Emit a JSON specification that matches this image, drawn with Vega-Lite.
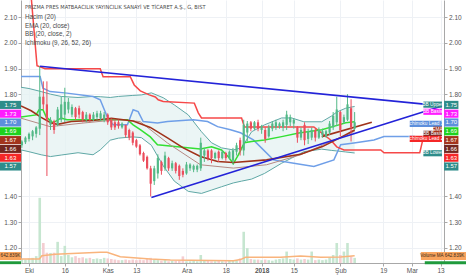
{
"$schema": "https://vega.github.io/schema/vega-lite/v6.json",
"width": 423, "height": 263, "autosize": "none",
"padding": {"left": 21, "right": 22, "top": 0, "bottom": 12},
"background": "white",
"config": {"view": {"stroke": null}, "font": "Liberation Sans", "axis": {"labelOverlap": false, "labelBound": false, "labelFlush": false}},
"datasets": {
"candles": [
{"t":-2,"o":1.600,"h":1.620,"l":1.590,"c":1.615,"v":350},
{"t":-1,"o":1.612,"h":1.635,"l":1.605,"c":1.630,"v":300},
{"t":0,"o":1.625,"h":1.650,"l":1.615,"c":1.645,"v":400},
{"t":1,"o":1.635,"h":1.660,"l":1.620,"c":1.655,"v":450},
{"t":2,"o":1.645,"h":1.675,"l":1.630,"c":1.670,"v":600},
{"t":3,"o":1.665,"h":1.910,"l":1.640,"c":1.790,"v":5700},
{"t":4,"o":1.790,"h":1.850,"l":1.740,"c":1.760,"v":1750},
{"t":5,"o":1.760,"h":1.850,"l":1.480,"c":1.700,"v":900},
{"t":6,"o":1.680,"h":1.710,"l":1.660,"c":1.700,"v":880},
{"t":7,"o":1.695,"h":1.700,"l":1.645,"c":1.660,"v":900},
{"t":8,"o":1.680,"h":1.750,"l":1.675,"c":1.740,"v":1850},
{"t":9,"o":1.700,"h":1.790,"l":1.690,"c":1.760,"v":600},
{"t":10,"o":1.720,"h":1.825,"l":1.690,"c":1.770,"v":1500},
{"t":11,"o":1.740,"h":1.785,"l":1.725,"c":1.770,"v":700},
{"t":12,"o":1.720,"h":1.760,"l":1.710,"c":1.750,"v":500},
{"t":13,"o":1.745,"h":1.750,"l":1.700,"c":1.710,"v":600},
{"t":14,"o":1.745,"h":1.755,"l":1.705,"c":1.720,"v":450},
{"t":15,"o":1.730,"h":1.735,"l":1.690,"c":1.700,"v":500},
{"t":16,"o":1.700,"h":1.730,"l":1.690,"c":1.720,"v":400},
{"t":17,"o":1.720,"h":1.725,"l":1.690,"c":1.700,"v":450},
{"t":18,"o":1.700,"h":1.730,"l":1.695,"c":1.720,"v":350},
{"t":19,"o":1.710,"h":1.735,"l":1.700,"c":1.725,"v":400},
{"t":20,"o":1.705,"h":1.735,"l":1.695,"c":1.725,"v":350},
{"t":21,"o":1.700,"h":1.730,"l":1.690,"c":1.720,"v":450},
{"t":22,"o":1.720,"h":1.725,"l":1.680,"c":1.690,"v":400},
{"t":23,"o":1.700,"h":1.705,"l":1.660,"c":1.670,"v":350},
{"t":24,"o":1.690,"h":1.700,"l":1.660,"c":1.670,"v":300},
{"t":25,"o":1.690,"h":1.700,"l":1.665,"c":1.675,"v":250},
{"t":26,"o":1.670,"h":1.690,"l":1.665,"c":1.685,"v":250},
{"t":27,"o":1.680,"h":1.680,"l":1.630,"c":1.640,"v":300},
{"t":28,"o":1.660,"h":1.665,"l":1.620,"c":1.630,"v":250},
{"t":29,"o":1.650,"h":1.655,"l":1.600,"c":1.610,"v":300},
{"t":30,"o":1.620,"h":1.625,"l":1.590,"c":1.595,"v":250},
{"t":31,"o":1.600,"h":1.605,"l":1.560,"c":1.565,"v":300},
{"t":32,"o":1.570,"h":1.575,"l":1.535,"c":1.540,"v":250},
{"t":33,"o":1.555,"h":1.560,"l":1.505,"c":1.510,"v":350},
{"t":34,"o":1.510,"h":1.520,"l":1.400,"c":1.450,"v":450},
{"t":35,"o":1.460,"h":1.520,"l":1.445,"c":1.510,"v":300},
{"t":36,"o":1.490,"h":1.565,"l":1.470,"c":1.550,"v":250},
{"t":37,"o":1.535,"h":1.540,"l":1.485,"c":1.500,"v":200},
{"t":38,"o":1.510,"h":1.575,"l":1.500,"c":1.560,"v":250},
{"t":39,"o":1.550,"h":1.555,"l":1.500,"c":1.510,"v":150},
{"t":40,"o":1.510,"h":1.540,"l":1.500,"c":1.530,"v":200},
{"t":41,"o":1.530,"h":1.535,"l":1.490,"c":1.500,"v":180},
{"t":42,"o":1.520,"h":1.525,"l":1.465,"c":1.480,"v":200},
{"t":43,"o":1.500,"h":1.510,"l":1.475,"c":1.485,"v":580},
{"t":44,"o":1.490,"h":1.535,"l":1.485,"c":1.525,"v":150},
{"t":45,"o":1.510,"h":1.530,"l":1.500,"c":1.525,"v":150},
{"t":46,"o":1.505,"h":1.525,"l":1.495,"c":1.520,"v":200},
{"t":47,"o":1.505,"h":1.525,"l":1.495,"c":1.520,"v":150},
{"t":48,"o":1.510,"h":1.630,"l":1.500,"c":1.610,"v":700},
{"t":49,"o":1.560,"h":1.590,"l":1.535,"c":1.580,"v":250},
{"t":50,"o":1.580,"h":1.585,"l":1.540,"c":1.550,"v":200},
{"t":51,"o":1.580,"h":1.585,"l":1.530,"c":1.550,"v":150},
{"t":52,"o":1.550,"h":1.575,"l":1.545,"c":1.570,"v":150},
{"t":53,"o":1.575,"h":1.580,"l":1.535,"c":1.550,"v":200},
{"t":54,"o":1.550,"h":1.580,"l":1.545,"c":1.575,"v":150},
{"t":55,"o":1.570,"h":1.575,"l":1.540,"c":1.550,"v":150},
{"t":56,"o":1.550,"h":1.580,"l":1.545,"c":1.575,"v":200},
{"t":57,"o":1.540,"h":1.590,"l":1.525,"c":1.580,"v":200},
{"t":58,"o":1.575,"h":1.610,"l":1.560,"c":1.600,"v":250},
{"t":59,"o":1.620,"h":1.630,"l":1.560,"c":1.580,"v":400},
{"t":60,"o":1.580,"h":1.700,"l":1.560,"c":1.680,"v":2730},
{"t":61,"o":1.650,"h":1.695,"l":1.615,"c":1.685,"v":1300},
{"t":62,"o":1.690,"h":1.695,"l":1.655,"c":1.665,"v":350},
{"t":63,"o":1.665,"h":1.695,"l":1.660,"c":1.690,"v":300},
{"t":64,"o":1.690,"h":1.700,"l":1.655,"c":1.665,"v":300},
{"t":65,"o":1.660,"h":1.680,"l":1.645,"c":1.675,"v":250},
{"t":66,"o":1.660,"h":1.670,"l":1.610,"c":1.625,"v":300},
{"t":67,"o":1.635,"h":1.680,"l":1.630,"c":1.670,"v":250},
{"t":68,"o":1.665,"h":1.695,"l":1.655,"c":1.685,"v":200},
{"t":69,"o":1.670,"h":1.700,"l":1.660,"c":1.690,"v":300},
{"t":70,"o":1.675,"h":1.690,"l":1.665,"c":1.685,"v":350},
{"t":71,"o":1.670,"h":1.700,"l":1.655,"c":1.690,"v":400},
{"t":72,"o":1.680,"h":1.735,"l":1.660,"c":1.720,"v":1000},
{"t":73,"o":1.690,"h":1.720,"l":1.675,"c":1.710,"v":350},
{"t":74,"o":1.685,"h":1.705,"l":1.665,"c":1.700,"v":300},
{"t":75,"o":1.670,"h":1.675,"l":1.610,"c":1.630,"v":400},
{"t":76,"o":1.630,"h":1.670,"l":1.620,"c":1.660,"v":300},
{"t":77,"o":1.680,"h":1.690,"l":1.600,"c":1.620,"v":350},
{"t":78,"o":1.625,"h":1.665,"l":1.605,"c":1.655,"v":300},
{"t":79,"o":1.630,"h":1.670,"l":1.620,"c":1.660,"v":1000},
{"t":80,"o":1.660,"h":1.665,"l":1.615,"c":1.630,"v":250},
{"t":81,"o":1.630,"h":1.670,"l":1.625,"c":1.660,"v":300},
{"t":82,"o":1.640,"h":1.665,"l":1.630,"c":1.655,"v":250},
{"t":83,"o":1.635,"h":1.660,"l":1.630,"c":1.655,"v":300},
{"t":84,"o":1.650,"h":1.695,"l":1.640,"c":1.685,"v":500},
{"t":85,"o":1.670,"h":1.730,"l":1.660,"c":1.715,"v":700},
{"t":86,"o":1.690,"h":1.790,"l":1.675,"c":1.740,"v":1750},
{"t":87,"o":1.730,"h":1.735,"l":1.635,"c":1.660,"v":700},
{"t":88,"o":1.690,"h":1.720,"l":1.685,"c":1.710,"v":1000},
{"t":89,"o":1.700,"h":1.800,"l":1.695,"c":1.760,"v":1750},
{"t":90,"o":1.745,"h":1.780,"l":1.615,"c":1.670,"v":600},
{"t":91,"o":1.665,"h":1.730,"l":1.660,"c":1.690,"v":450}
],
"bb": [
{"t":-2.24,"up":1.827,"lo":1.582},{"t":0,"up":1.822,"lo":1.575},{"t":3.4,"up":1.810,"lo":1.563},{"t":6,"up":1.800,"lo":1.556},
{"t":9,"up":1.791,"lo":1.562},{"t":13.7,"up":1.787,"lo":1.571},{"t":17.9,"up":1.791,"lo":1.563},{"t":19.9,"up":1.790,"lo":1.582},
{"t":22.7,"up":1.787,"lo":1.620},{"t":25,"up":1.791,"lo":1.628},{"t":29,"up":1.795,"lo":1.633},{"t":31.4,"up":1.797,"lo":1.630},
{"t":34.2,"up":1.805,"lo":1.600},{"t":37.5,"up":1.786,"lo":1.520},{"t":40.6,"up":1.758,"lo":1.460},{"t":44.5,"up":1.719,"lo":1.420},
{"t":48.2,"up":1.653,"lo":1.412},{"t":51,"up":1.610,"lo":1.425},{"t":53.8,"up":1.590,"lo":1.438},{"t":57.1,"up":1.582,"lo":1.453},
{"t":59.4,"up":1.590,"lo":1.460},{"t":62.2,"up":1.653,"lo":1.468},{"t":65.8,"up":1.680,"lo":1.490},{"t":70.6,"up":1.707,"lo":1.530},
{"t":73.4,"up":1.707,"lo":1.550},{"t":76.8,"up":1.692,"lo":1.575},{"t":81.8,"up":1.692,"lo":1.585},{"t":84.6,"up":1.715,"lo":1.580},
{"t":86,"up":1.730,"lo":1.578},{"t":88.5,"up":1.745,"lo":1.574},{"t":91,"up":1.752,"lo":1.570}
],
"ind": [
{"s":"ema","t":-2.24,"p":1.754},{"s":"ema","t":0.6,"p":1.735},{"s":"ema","t":3.4,"p":1.709},{"s":"ema","t":6.2,"p":1.687},{"s":"ema","t":8,"p":1.682},{"s":"ema","t":11.8,"p":1.693},{"s":"ema","t":17.8,"p":1.697},{"s":"ema","t":23,"p":1.706},{"s":"ema","t":29.1,"p":1.695},{"s":"ema","t":33.9,"p":1.670},{"s":"ema","t":38.7,"p":1.629},{"s":"ema","t":43.1,"p":1.590},{"s":"ema","t":47.9,"p":1.556},{"s":"ema","t":52.7,"p":1.537},{"s":"ema","t":57.1,"p":1.533},{"s":"ema","t":66.4,"p":1.543},{"s":"ema","t":75.9,"p":1.565},{"s":"ema","t":82,"p":1.595},{"s":"ema","t":87,"p":1.630},{"s":"ema","t":91,"p":1.660},
{"s":"basis","t":-2.24,"p":1.706},{"s":"basis","t":5.9,"p":1.673},{"s":"basis","t":15.1,"p":1.687},{"s":"basis","t":24.6,"p":1.700},{"s":"basis","t":31,"p":1.693},{"s":"basis","t":38.7,"p":1.609},{"s":"basis","t":47.9,"p":1.524},{"s":"basis","t":57.1,"p":1.511},{"s":"basis","t":66.4,"p":1.524},{"s":"basis","t":75.9,"p":1.563},{"s":"basis","t":85.2,"p":1.620},{"s":"basis","t":91,"p":1.655},
{"s":"lead1","t":-2.24,"p":1.869},{"s":"lead1","t":3.1,"p":1.869},{"s":"lead1","t":3.9,"p":1.823},{"s":"lead1","t":5.9,"p":1.810},{"s":"lead1","t":10.6,"p":1.804},{"s":"lead1","t":17.9,"p":1.791},{"s":"lead1","t":19.9,"p":1.778},{"s":"lead1","t":21.8,"p":1.713},{"s":"lead1","t":23.5,"p":1.680},{"s":"lead1","t":27.5,"p":1.680},{"s":"lead1","t":29.1,"p":1.739},{"s":"lead1","t":30.5,"p":1.732},{"s":"lead1","t":31.9,"p":1.693},{"s":"lead1","t":35.9,"p":1.687},{"s":"lead1","t":38.7,"p":1.693},{"s":"lead1","t":45.9,"p":1.700},{"s":"lead1","t":49.9,"p":1.693},{"s":"lead1","t":52.7,"p":1.673},{"s":"lead1","t":56.3,"p":1.661},{"s":"lead1","t":59.1,"p":1.649},{"s":"lead1","t":62.7,"p":1.621},{"s":"lead1","t":68.3,"p":1.543},{"s":"lead1","t":74,"p":1.530},{"s":"lead1","t":79.6,"p":1.517},{"s":"lead1","t":85.2,"p":1.543},{"s":"lead1","t":87.1,"p":1.602},{"s":"lead1","t":90.8,"p":1.609},{"s":"lead1","t":96.4,"p":1.621},{"s":"lead1","t":99.2,"p":1.634},{"s":"lead1","t":107.6,"p":1.634},{"s":"lead1","t":110.4,"p":1.628},
{"s":"lead2","t":0.56,"p":2.188},{"s":"lead2","t":2.24,"p":1.911},{"s":"lead2","t":4.48,"p":1.899},{"s":"lead2","t":19.9,"p":1.899},{"s":"lead2","t":20.7,"p":1.868},{"s":"lead2","t":28.3,"p":1.868},{"s":"lead2","t":29.4,"p":1.836},{"s":"lead2","t":31.1,"p":1.813},{"s":"lead2","t":33.6,"p":1.797},{"s":"lead2","t":35.3,"p":1.789},{"s":"lead2","t":36.1,"p":1.778},{"s":"lead2","t":37.5,"p":1.771},{"s":"lead2","t":46.2,"p":1.765},{"s":"lead2","t":47.3,"p":1.727},{"s":"lead2","t":48.2,"p":1.707},{"s":"lead2","t":59.4,"p":1.707},{"s":"lead2","t":60.2,"p":1.672},{"s":"lead2","t":79.6,"p":1.672},{"s":"lead2","t":84.3,"p":1.621},{"s":"lead2","t":86,"p":1.594},{"s":"lead2","t":88,"p":1.582},{"s":"lead2","t":98.3,"p":1.582},{"s":"lead2","t":99.2,"p":1.571},{"s":"lead2","t":109.2,"p":1.571},{"s":"lead2","t":110.1,"p":1.625},{"s":"lead2","t":115,"p":1.625},
{"s":"conv","t":-2.24,"p":1.711},{"s":"conv","t":1.96,"p":1.719},{"s":"conv","t":2.8,"p":1.739},{"s":"conv","t":3.9,"p":1.739},{"s":"conv","t":4.8,"p":1.711},{"s":"conv","t":6.7,"p":1.688},{"s":"conv","t":9,"p":1.707},{"s":"conv","t":10.6,"p":1.700},{"s":"conv","t":27.5,"p":1.700},{"s":"conv","t":29.1,"p":1.680},{"s":"conv","t":31.1,"p":1.661},{"s":"conv","t":33.9,"p":1.633},{"s":"conv","t":35.9,"p":1.602},{"s":"conv","t":41.5,"p":1.594},{"s":"conv","t":47.9,"p":1.586},{"s":"conv","t":51,"p":1.594},{"s":"conv","t":53.8,"p":1.582},{"s":"conv","t":55.7,"p":1.555},{"s":"conv","t":57.1,"p":1.528},{"s":"conv","t":58.5,"p":1.563},{"s":"conv","t":60.2,"p":1.610},{"s":"conv","t":62.2,"p":1.615},{"s":"conv","t":65.8,"p":1.621},{"s":"conv","t":70.6,"p":1.634},{"s":"conv","t":75.4,"p":1.648},{"s":"conv","t":81.8,"p":1.661},{"s":"conv","t":86.6,"p":1.680},{"s":"conv","t":88.5,"p":1.688},{"s":"conv","t":91,"p":1.692},
{"s":"brown","t":81.8,"p":1.634},{"s":"brown","t":95.8,"p":1.690},
{"s":"down","t":3.08,"p":1.909},{"s":"down","t":115.4,"p":1.754},
{"s":"up","t":34.2,"p":1.396},{"s":"up","t":115.4,"p":1.754}
],
"vma": [
{"t":-2.24,"v":350},{"t":2.9,"v":360},{"t":3.6,"v":640},{"t":7.3,"v":760},{"t":19.9,"v":935},{"t":21.8,"v":935},{"t":25.5,"v":550},{"t":33.9,"v":350},{"t":39.5,"v":260},{"t":57.1,"v":200},{"t":59.1,"v":300},{"t":60.5,"v":500},{"t":70.3,"v":500},{"t":75.9,"v":610},{"t":81.5,"v":500},{"t":87.1,"v":525},{"t":91,"v":643}
],
"tags": [
{"k":"upper","p":1.75},{"k":"mag","p":1.73},{"k":"lead1","p":1.70},{"k":"close","p":1.69},{"k":"ema","p":1.67},{"k":"basis","p":1.66},{"k":"lead2","p":1.63},{"k":"lower","p":1.57}
],
"names": [
{"n":"BB Upper","p":1.759,"k":"upper"},{"n":"BB Basis","p":1.731,"k":"mag"},{"n":"Ichimoku Lead 1","p":1.684,"k":"lead1"},{"n":"BB Basis","p":1.645,"k":"basis"},{"n":"EMA","p":1.661,"k":"ema"},{"n":"Ichimoku Lead 2","p":1.625,"k":"lead2"},{"n":"BB Lower","p":1.569,"k":"lower"}
]
},
"layer": [
{
"layer": [
{"data": {"name": "candles"}, "mark": {"type": "rule", "strokeWidth": 2.6},
 "encoding": {
  "x": {"field": "t", "type": "quantitative", "scale": {"domain": [-2.24, 115.97], "nice": false, "zero": false},
   "axis": {"values": [0,10,22,30,44,55,65,74,87,99,107,115], "tickCount": 40, "labelExpr": "['Eki','16','Kas','13','Ara','18','2018','15','Şub','19','Mar','13'][indexof([0,10,22,30,44,55,65,74,87,99,107,115], datum.value)]",
    "title": null, "grid": true, "gridColor": "#eef1f5", "domainColor": "#a8a8a8", "tickColor": "#a8a8a8", "tickSize": 3, "labelFontSize": 6.5, "labelColor": "#555", "labelPadding": 1, "labelFlush": false, "labelOverlap": false,
    "labelFontWeight": {"condition": {"test": "datum.value == 65", "value": "bold"}, "value": "normal"}}},
  "y": {"field": "v", "type": "quantitative", "scale": {"domain": [0, 23000], "nice": false}, "axis": null},
  "y2": {"datum": 0},
  "color": {"condition": {"test": "datum.c >= datum.o", "value": "#c6e6d0"}, "value": "#f4cdd1"}}},
{"data": {"name": "vma"}, "mark": {"type": "line", "stroke": "#f9b47c", "strokeWidth": 1.5},
 "encoding": {"x": {"field": "t", "type": "quantitative", "scale": {"domain": [-2.24, 115.97], "nice": false, "zero": false}},
  "y": {"field": "v", "type": "quantitative", "scale": {"domain": [0, 23000], "nice": false}}}},
{"data": {"values": [{}]}, "mark": {"type": "rect", "fill": "#1f9a3c"},
 "encoding": {"x": {"datum": 110.6, "type": "quantitative", "scale": {"domain": [-2.24, 115.97], "nice": false, "zero": false}}, "x2": {"datum": 122.4},
  "y": {"datum": -100, "type": "quantitative", "scale": {"domain": [0, 23000], "nice": false}}, "y2": {"datum": 150}}},
{"data": {"values": [{}]}, "mark": {"type": "rect", "fill": "#1f9a3c"},
 "encoding": {"x": {"datum": -8.2, "type": "quantitative", "scale": {"domain": [-2.24, 115.97], "nice": false, "zero": false}}, "x2": {"datum": -2.24},
  "y": {"datum": -100, "type": "quantitative", "scale": {"domain": [0, 23000], "nice": false}}, "y2": {"datum": 150}}},
{"data": {"values": [{}]}, "mark": {"type": "rect", "fill": "#f9a45e"},
 "encoding": {"x": {"datum": 109.5, "type": "quantitative", "scale": {"domain": [-2.24, 115.97], "nice": false, "zero": false}}, "x2": {"datum": 122.4},
  "y": {"datum": 262, "type": "quantitative", "scale": {"domain": [0, 23000], "nice": false}}, "y2": {"datum": 962}}},
{"data": {"values": [{}]}, "mark": {"type": "rect", "fill": "#f9a45e"},
 "encoding": {"x": {"datum": -8.2, "type": "quantitative", "scale": {"domain": [-2.24, 115.97], "nice": false, "zero": false}}, "x2": {"datum": -2.24},
  "y": {"datum": 262, "type": "quantitative", "scale": {"domain": [0, 23000], "nice": false}}, "y2": {"datum": 962}}},
{"data": {"values": [{"x": 112.6, "s": "Volume MA"}, {"x": 118.9, "s": "642.839K"}, {"x": -5.2, "s": "642.839K"}]},
 "mark": {"type": "text", "fontSize": 4.6, "color": "#3a2a1a", "align": "center", "baseline": "middle"},
 "encoding": {"x": {"field": "x", "type": "quantitative", "scale": {"domain": [-2.24, 115.97], "nice": false, "zero": false}},
  "y": {"datum": 612, "type": "quantitative", "scale": {"domain": [0, 23000], "nice": false}}, "text": {"field": "s"}}}
]
},
{
"layer": [
{"data": {"name": "bb"}, "mark": {"type": "area", "fill": "#e4f1f1", "opacity": 0.75},
 "encoding": {"x": {"field": "t", "type": "quantitative", "scale": {"domain": [-2.24, 115.97], "nice": false, "zero": false}},
  "y": {"field": "lo", "type": "quantitative", "scale": {"domain": [1.14, 2.168], "nice": false, "zero": false},
   "axis": {"orient": "right", "values": [1.2,1.3,1.4,1.8,1.9,2.0,2.1], "tickCount": 40, "format": ".2f", "title": null, "grid": true, "gridColor": "#eef1f5", "domainColor": "#a8a8a8", "tickColor": "#a8a8a8", "tickSize": 3, "labelFontSize": 6.5, "labelColor": "#555", "labelPadding": 1.5, "labelOverlap": false}},
  "y2": {"field": "up"}}},
{"data": {"name": "bb"}, "mark": {"type": "line", "stroke": "#5fa8a6", "strokeWidth": 1},
 "encoding": {"x": {"field": "t", "type": "quantitative", "scale": {"domain": [-2.24, 115.97], "nice": false, "zero": false}},
  "y": {"field": "up", "type": "quantitative", "scale": {"domain": [1.14, 2.168], "nice": false, "zero": false}}}},
{"data": {"name": "bb"}, "mark": {"type": "line", "stroke": "#5fa8a6", "strokeWidth": 1},
 "encoding": {"x": {"field": "t", "type": "quantitative", "scale": {"domain": [-2.24, 115.97], "nice": false, "zero": false}},
  "y": {"field": "lo", "type": "quantitative", "scale": {"domain": [1.14, 2.168], "nice": false, "zero": false}}}},
{"mark": {"type": "rule", "stroke": "#ff00ff", "strokeWidth": 1.5, "strokeDash": [4, 2]},
 "encoding": {"y": {"datum": 1.73, "type": "quantitative", "scale": {"domain": [1.14, 2.168], "nice": false, "zero": false}}}},
{"mark": {"type": "rule", "stroke": "#8db3f0", "strokeWidth": 1.5, "strokeDash": [2, 2]},
 "encoding": {"y": {"datum": 1.70, "type": "quantitative", "scale": {"domain": [1.14, 2.168], "nice": false, "zero": false}}}},
{"mark": {"type": "rule", "stroke": "#3ed83e", "strokeWidth": 1.5, "strokeDash": [2, 2]},
 "encoding": {"y": {"datum": 1.688, "type": "quantitative", "scale": {"domain": [1.14, 2.168], "nice": false, "zero": false}}}},
{"mark": {"type": "rule", "stroke": "#f03030", "strokeWidth": 1.5, "strokeDash": [2, 2]},
 "encoding": {"y": {"datum": 1.627, "type": "quantitative", "scale": {"domain": [1.14, 2.168], "nice": false, "zero": false}}}},
{"data": {"name": "ind"}, "transform": [{"filter": "datum.s == 'lead1'"}], "mark": {"type": "line", "stroke": "#6f9fe8", "strokeWidth": 1.5, "clip": true},
 "encoding": {"x": {"field": "t", "type": "quantitative", "scale": {"domain": [-2.24, 115.97], "nice": false, "zero": false}},
  "y": {"field": "p", "type": "quantitative", "scale": {"domain": [1.14, 2.168], "nice": false, "zero": false}}}},
{"data": {"name": "ind"}, "transform": [{"filter": "datum.s == 'lead2'"}], "mark": {"type": "line", "stroke": "#f64848", "strokeWidth": 1.5, "clip": true},
 "encoding": {"x": {"field": "t", "type": "quantitative", "scale": {"domain": [-2.24, 115.97], "nice": false, "zero": false}},
  "y": {"field": "p", "type": "quantitative", "scale": {"domain": [1.14, 2.168], "nice": false, "zero": false}}}},
{"data": {"name": "ind"}, "transform": [{"filter": "datum.s == 'conv'"}], "mark": {"type": "line", "stroke": "#33e033", "strokeWidth": 1.5, "clip": true},
 "encoding": {"x": {"field": "t", "type": "quantitative", "scale": {"domain": [-2.24, 115.97], "nice": false, "zero": false}},
  "y": {"field": "p", "type": "quantitative", "scale": {"domain": [1.14, 2.168], "nice": false, "zero": false}}}},
{"data": {"name": "ind"}, "transform": [{"filter": "datum.s == 'basis'"}], "mark": {"type": "line", "stroke": "#b58a84", "strokeWidth": 1, "clip": true},
 "encoding": {"x": {"field": "t", "type": "quantitative", "scale": {"domain": [-2.24, 115.97], "nice": false, "zero": false}},
  "y": {"field": "p", "type": "quantitative", "scale": {"domain": [1.14, 2.168], "nice": false, "zero": false}}}},
{"data": {"name": "ind"}, "transform": [{"filter": "datum.s == 'ema' || datum.s == 'brown'"}], "mark": {"type": "line", "stroke": "#a0321a", "strokeWidth": 1.6, "clip": true},
 "encoding": {"x": {"field": "t", "type": "quantitative", "scale": {"domain": [-2.24, 115.97], "nice": false, "zero": false}},
  "y": {"field": "p", "type": "quantitative", "scale": {"domain": [1.14, 2.168], "nice": false, "zero": false}}, "detail": {"field": "s"}}},
{"data": {"name": "candles"}, "mark": {"type": "rule", "strokeWidth": 1},
 "encoding": {"x": {"field": "t", "type": "quantitative", "scale": {"domain": [-2.24, 115.97], "nice": false, "zero": false}},
  "y": {"field": "l", "type": "quantitative", "scale": {"domain": [1.14, 2.168], "nice": false, "zero": false}}, "y2": {"field": "h"},
  "color": {"condition": {"test": "datum.c >= datum.o", "value": "#53b987"}, "value": "#eb4d5c"}}},
{"data": {"name": "candles"}, "mark": {"type": "rule", "strokeWidth": 2.2},
 "encoding": {"x": {"field": "t", "type": "quantitative", "scale": {"domain": [-2.24, 115.97], "nice": false, "zero": false}},
  "y": {"field": "o", "type": "quantitative", "scale": {"domain": [1.14, 2.168], "nice": false, "zero": false}}, "y2": {"field": "c"},
  "color": {"condition": {"test": "datum.c >= datum.o", "value": "#53b987"}, "value": "#eb4d5c"}}},
{"data": {"name": "ind"}, "transform": [{"filter": "datum.s == 'down' || datum.s == 'up'"}], "mark": {"type": "line", "stroke": "#2323d8", "strokeWidth": 1.6, "clip": true},
 "encoding": {"x": {"field": "t", "type": "quantitative", "scale": {"domain": [-2.24, 115.97], "nice": false, "zero": false}},
  "y": {"field": "p", "type": "quantitative", "scale": {"domain": [1.14, 2.168], "nice": false, "zero": false}}, "detail": {"field": "s"}}},
{"data": {"name": "names"},
 "transform": [{"calculate": "115.4 - (length(datum.n)*1.95 + 3)/3.578", "as": "t0"}, {"calculate": "(datum.t0 + 115.4)/2", "as": "tm"}, {"calculate": "datum.p - 0.012", "as": "y0"}, {"calculate": "datum.p + 0.012", "as": "y1"}],
 "layer": [
  {"mark": {"type": "rect"},
   "encoding": {"x": {"field": "t0", "type": "quantitative", "scale": {"domain": [-2.24, 115.97], "nice": false, "zero": false}}, "x2": {"datum": 115.4},
    "y": {"field": "y0", "type": "quantitative", "scale": {"domain": [1.14, 2.168], "nice": false, "zero": false}}, "y2": {"field": "y1"},
    "color": {"field": "k", "type": "nominal", "scale": {"domain": ["upper","mag","lead1","close","ema","basis","lead2","lower"], "range": ["#2e8c8a","#ff1cff","#5d8fdc","#1ed21e","#a3341c","#73271f","#f52727","#2e8c8a"]}, "legend": null}}},
  {"mark": {"type": "text", "fontSize": 4.8, "color": "white", "align": "center", "baseline": "middle"},
   "encoding": {"x": {"field": "tm", "type": "quantitative", "scale": {"domain": [-2.24, 115.97], "nice": false, "zero": false}},
    "y": {"field": "p", "type": "quantitative", "scale": {"domain": [1.14, 2.168], "nice": false, "zero": false}}, "text": {"field": "n"}}}
 ]},
{"data": {"name": "tags"},
 "transform": [{"window": [{"op": "row_number", "as": "r"}], "sort": [{"field": "p", "order": "descending"}]},
  {"calculate": "1.758 - (datum.r - 1)*0.0344", "as": "ly"}, {"calculate": "datum.ly - 0.0158", "as": "ly0"}, {"calculate": "datum.ly + 0.0158", "as": "ly1"}, {"calculate": "format(datum.p, '.2f')", "as": "lab"}],
 "layer": [
  {"mark": {"type": "rect"},
   "encoding": {"x": {"datum": 116, "type": "quantitative", "scale": {"domain": [-2.24, 115.97], "nice": false, "zero": false}}, "x2": {"datum": 120},
    "y": {"field": "ly0", "type": "quantitative", "scale": {"domain": [1.14, 2.168], "nice": false, "zero": false}}, "y2": {"field": "ly1"},
    "color": {"field": "k", "type": "nominal", "scale": {"domain": ["upper","mag","lead1","close","ema","basis","lead2","lower"], "range": ["#2e8c8a","#ff1cff","#5d8fdc","#1ed21e","#a3341c","#73271f","#f52727","#2e8c8a"]}, "legend": null}}},
  {"mark": {"type": "rect"},
   "encoding": {"x": {"datum": -8.2, "type": "quantitative", "scale": {"domain": [-2.24, 115.97], "nice": false, "zero": false}}, "x2": {"datum": -2.24},
    "y": {"field": "ly0", "type": "quantitative", "scale": {"domain": [1.14, 2.168], "nice": false, "zero": false}}, "y2": {"field": "ly1"},
    "color": {"field": "k", "type": "nominal", "scale": {"domain": ["upper","mag","lead1","close","ema","basis","lead2","lower"], "range": ["#2e8c8a","#ff1cff","#5d8fdc","#1ed21e","#a3341c","#73271f","#f52727","#2e8c8a"]}, "legend": null}}},
  {"mark": {"type": "text", "fontSize": 6, "color": "white", "align": "center", "baseline": "middle"},
   "encoding": {"x": {"datum": 118, "type": "quantitative", "scale": {"domain": [-2.24, 115.97], "nice": false, "zero": false}},
    "y": {"field": "ly", "type": "quantitative", "scale": {"domain": [1.14, 2.168], "nice": false, "zero": false}}, "text": {"field": "lab"}}},
  {"mark": {"type": "text", "fontSize": 6, "color": "white", "align": "center", "baseline": "middle"},
   "encoding": {"x": {"datum": -5.2, "type": "quantitative", "scale": {"domain": [-2.24, 115.97], "nice": false, "zero": false}},
    "y": {"field": "ly", "type": "quantitative", "scale": {"domain": [1.14, 2.168], "nice": false, "zero": false}}, "text": {"field": "lab"}}}
 ]},
{"data": {"values": [{}]}, "mark": {"type": "text", "font": "'Liberation Sans Narrow', 'DejaVu Sans Condensed', 'Liberation Sans'", "fontSize": 5.6, "color": "#4a4a4a", "align": "left", "baseline": "middle"},
 "encoding": {"x": {"datum": -1.12, "type": "quantitative", "scale": {"domain": [-2.24, 115.97], "nice": false, "zero": false}},
  "y": {"datum": 2.142, "type": "quantitative", "scale": {"domain": [1.14, 2.168], "nice": false, "zero": false}},
  "text": {"value": "PRİZMA PRES MATBAACILIK YAYINCILIK SANAYİ VE TİCARET A.Ş., G, BIST"}}},
{"data": {"values": [{}]}, "mark": {"type": "text", "fontSize": 6.3, "color": "#4a4a4a", "align": "left", "baseline": "top", "lineHeight": 8.7},
 "encoding": {"x": {"datum": -1.12, "type": "quantitative", "scale": {"domain": [-2.24, 115.97], "nice": false, "zero": false}},
  "y": {"datum": 2.113, "type": "quantitative", "scale": {"domain": [1.14, 2.168], "nice": false, "zero": false}},
  "text": {"value": ["Hacim (20)", "EMA (20, close)", "BB (20, close, 2)", "Ichimoku (9, 26, 52, 26)"]}}}
]
},
{"data": {"values": [{}]}, "mark": {"type": "point", "opacity": 0},
 "encoding": {"y": {"datum": 1.5, "type": "quantitative", "scale": {"domain": [1.14, 2.168], "nice": false, "zero": false},
  "axis": {"orient": "left", "values": [1.2,1.3,1.4,1.8,1.9,2.0,2.1], "tickCount": 40, "format": ".2f", "title": null, "grid": false, "domainColor": "#a8a8a8", "tickColor": "#a8a8a8", "tickSize": 3, "labelFontSize": 6.5, "labelColor": "#555", "labelPadding": 1.5, "labelOverlap": false}}}}
],
"resolve": {"scale": {"y": "independent"}}
}
